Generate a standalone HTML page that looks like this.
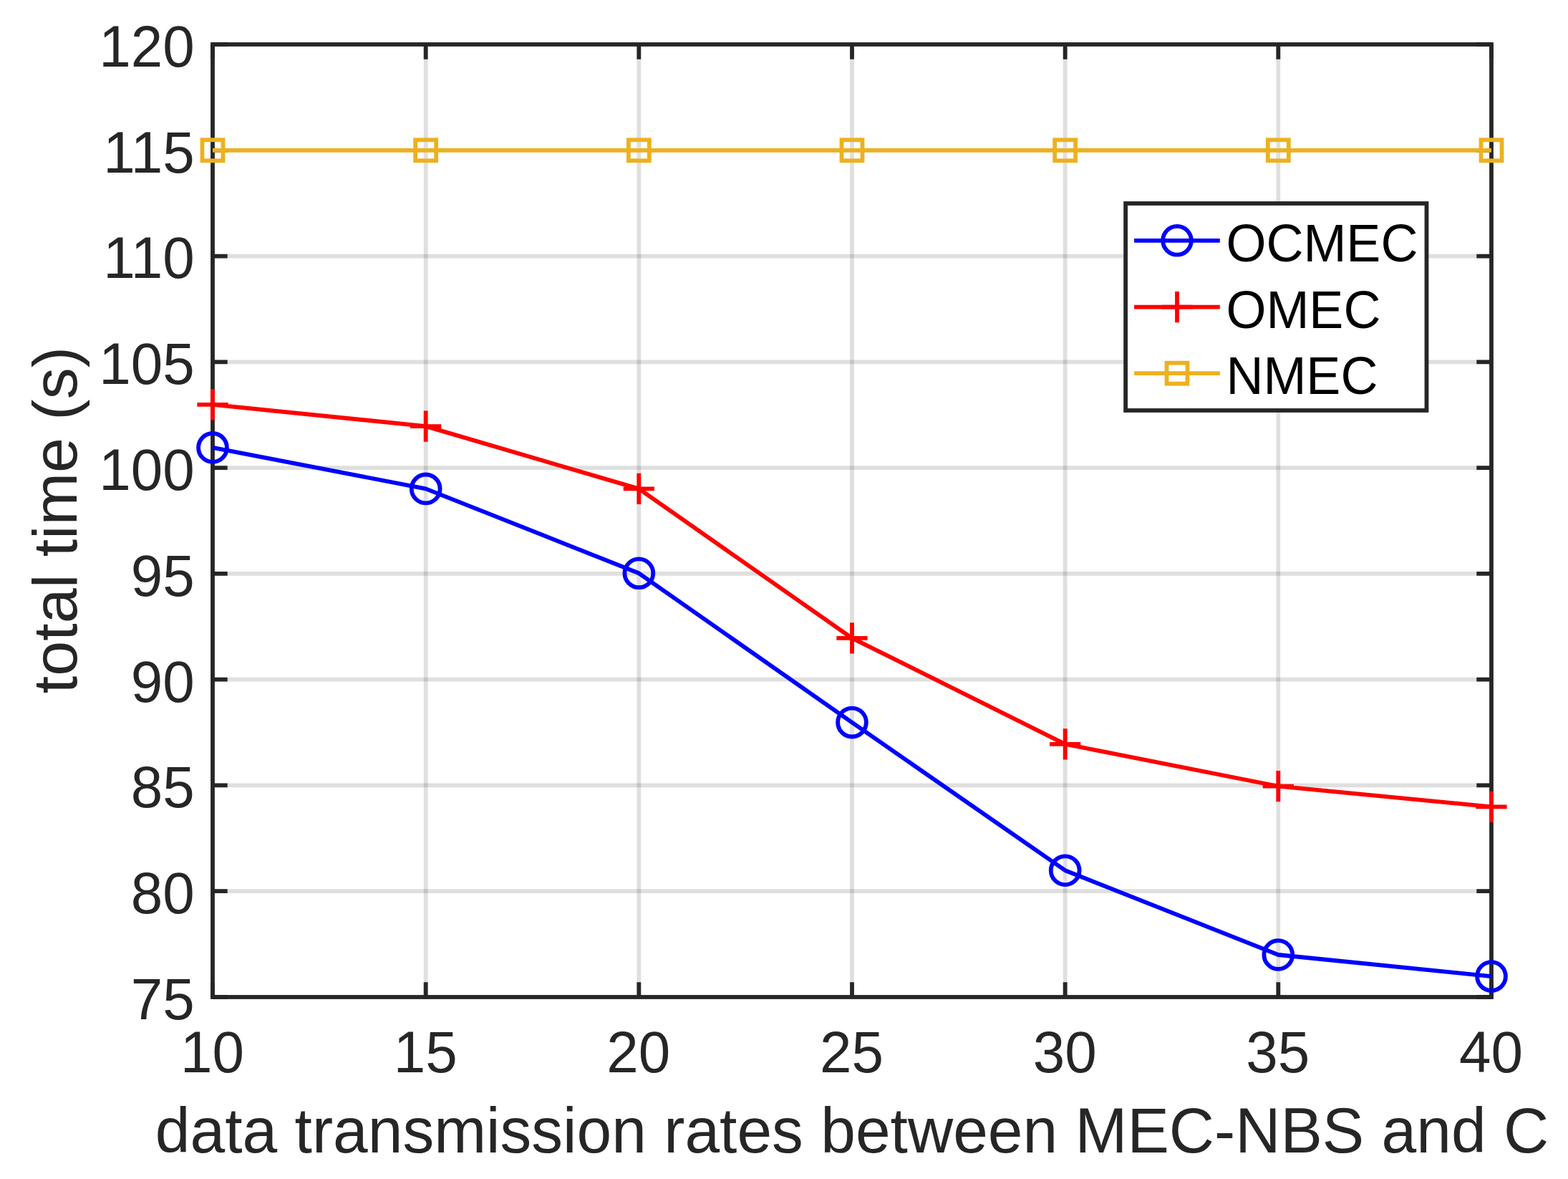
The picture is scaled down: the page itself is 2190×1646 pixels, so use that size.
<!DOCTYPE html><html><head><meta charset="utf-8"><title>total time plot</title>
<style>html,body{margin:0;padding:0;background:#fff;}svg{display:block;}text{font-family:'Liberation Sans', Arial, Helvetica, sans-serif;}</style></head><body>
<svg width="2190" height="1646" viewBox="0 0 2190 1646">
<rect x="0" y="0" width="2190" height="1646" fill="#fff"/>
<g fill="none" stroke="#262626" stroke-opacity="0.15" stroke-width="5.80">
<path d="M594.67 62.00V1392.00"/>
<path d="M892.33 62.00V1392.00"/>
<path d="M1190.00 62.00V1392.00"/>
<path d="M1487.67 62.00V1392.00"/>
<path d="M1785.33 62.00V1392.00"/>
<path d="M297.00 1244.22H2083.00"/>
<path d="M297.00 1096.44H2083.00"/>
<path d="M297.00 948.67H2083.00"/>
<path d="M297.00 800.89H2083.00"/>
<path d="M297.00 653.11H2083.00"/>
<path d="M297.00 505.33H2083.00"/>
<path d="M297.00 357.56H2083.00"/>
<path d="M297.00 209.78H2083.00"/>
</g>
<g fill="none" stroke="#262626" stroke-width="5.80">
<path d="M297.00 1392.00V1371.30M297.00 62.00V82.70M594.67 1392.00V1371.30M594.67 62.00V82.70M892.33 1392.00V1371.30M892.33 62.00V82.70M1190.00 1392.00V1371.30M1190.00 62.00V82.70M1487.67 1392.00V1371.30M1487.67 62.00V82.70M1785.33 1392.00V1371.30M1785.33 62.00V82.70M2083.00 1392.00V1371.30M2083.00 62.00V82.70M297.00 1392.00H317.70M2083.00 1392.00H2062.30M297.00 1244.22H317.70M2083.00 1244.22H2062.30M297.00 1096.44H317.70M2083.00 1096.44H2062.30M297.00 948.67H317.70M2083.00 948.67H2062.30M297.00 800.89H317.70M2083.00 800.89H2062.30M297.00 653.11H317.70M2083.00 653.11H2062.30M297.00 505.33H317.70M2083.00 505.33H2062.30M297.00 357.56H317.70M2083.00 357.56H2062.30M297.00 209.78H317.70M2083.00 209.78H2062.30M297.00 62.00H317.70M2083.00 62.00H2062.30"/>
<rect x="297.00" y="62.00" width="1786.00" height="1330.00" stroke-linejoin="miter"/>
</g>
<g fill="#262626" font-size="80">
<text transform="translate(296.50 1496.90) scale(1 1.020)" text-anchor="middle">10</text>
<text transform="translate(594.17 1496.90) scale(1 1.020)" text-anchor="middle">15</text>
<text transform="translate(891.83 1496.90) scale(1 1.020)" text-anchor="middle">20</text>
<text transform="translate(1189.50 1496.90) scale(1 1.020)" text-anchor="middle">25</text>
<text transform="translate(1487.17 1496.90) scale(1 1.020)" text-anchor="middle">30</text>
<text transform="translate(1784.83 1496.90) scale(1 1.020)" text-anchor="middle">35</text>
<text transform="translate(2082.50 1496.90) scale(1 1.020)" text-anchor="middle">40</text>
<text transform="translate(271.80 1422.90) scale(1 1.020)" text-anchor="end">75</text>
<text transform="translate(271.80 1275.12) scale(1 1.020)" text-anchor="end">80</text>
<text transform="translate(271.80 1127.34) scale(1 1.020)" text-anchor="end">85</text>
<text transform="translate(271.80 979.57) scale(1 1.020)" text-anchor="end">90</text>
<text transform="translate(271.80 831.79) scale(1 1.020)" text-anchor="end">95</text>
<text transform="translate(271.80 684.01) scale(1 1.020)" text-anchor="end">100</text>
<text transform="translate(271.80 536.23) scale(1 1.020)" text-anchor="end">105</text>
<text transform="translate(271.80 388.46) scale(1 1.020)" text-anchor="end">110</text>
<text transform="translate(271.80 240.68) scale(1 1.020)" text-anchor="end">115</text>
<text transform="translate(271.80 92.90) scale(1 1.020)" text-anchor="end">120</text>
</g>
<text transform="translate(1190 1608.9) scale(0.995 1)" text-anchor="middle" font-size="88" fill="#262626">data transmission rates between MEC-NBS and C</text>
<text transform="translate(106.6 726.1) rotate(-90)" x="0" y="0" text-anchor="middle" font-size="88" fill="#262626">total time (s)</text>
<polyline points="297.00,624.90 594.67,682.40 892.33,800.30 1190.00,1008.60 1487.67,1215.20 1785.33,1333.00 2083.00,1363.10" fill="none" stroke="#0000ff" stroke-width="5.80" stroke-linejoin="round"/>
<circle cx="297.00" cy="624.90" r="19.90" fill="none" stroke="#0000ff" stroke-width="5.80"/>
<circle cx="594.67" cy="682.40" r="19.90" fill="none" stroke="#0000ff" stroke-width="5.80"/>
<circle cx="892.33" cy="800.30" r="19.90" fill="none" stroke="#0000ff" stroke-width="5.80"/>
<circle cx="1190.00" cy="1008.60" r="19.90" fill="none" stroke="#0000ff" stroke-width="5.80"/>
<circle cx="1487.67" cy="1215.20" r="19.90" fill="none" stroke="#0000ff" stroke-width="5.80"/>
<circle cx="1785.33" cy="1333.00" r="19.90" fill="none" stroke="#0000ff" stroke-width="5.80"/>
<circle cx="2083.00" cy="1363.10" r="19.90" fill="none" stroke="#0000ff" stroke-width="5.80"/>
<polyline points="297.00,564.80 594.67,595.10 892.33,682.40 1190.00,890.80 1487.67,1038.80 1785.33,1097.70 2083.00,1126.30" fill="none" stroke="#ff0000" stroke-width="5.80" stroke-linejoin="round"/>
<path d="M275.40 564.80H318.60M297.00 543.20V586.40" fill="none" stroke="#ff0000" stroke-width="5.80"/>
<path d="M573.07 595.10H616.27M594.67 573.50V616.70" fill="none" stroke="#ff0000" stroke-width="5.80"/>
<path d="M870.73 682.40H913.93M892.33 660.80V704.00" fill="none" stroke="#ff0000" stroke-width="5.80"/>
<path d="M1168.40 890.80H1211.60M1190.00 869.20V912.40" fill="none" stroke="#ff0000" stroke-width="5.80"/>
<path d="M1466.07 1038.80H1509.27M1487.67 1017.20V1060.40" fill="none" stroke="#ff0000" stroke-width="5.80"/>
<path d="M1763.73 1097.70H1806.93M1785.33 1076.10V1119.30" fill="none" stroke="#ff0000" stroke-width="5.80"/>
<path d="M2061.40 1126.30H2104.60M2083.00 1104.70V1147.90" fill="none" stroke="#ff0000" stroke-width="5.80"/>
<polyline points="297.00,209.80 594.67,209.80 892.33,209.80 1190.00,209.80 1487.67,209.80 1785.33,209.80 2083.00,209.80" fill="none" stroke="#edb120" stroke-width="5.80" stroke-linejoin="round"/>
<rect x="282.50" y="195.30" width="29.00" height="29.00" fill="none" stroke="#edb120" stroke-width="5.80"/>
<rect x="580.17" y="195.30" width="29.00" height="29.00" fill="none" stroke="#edb120" stroke-width="5.80"/>
<rect x="877.83" y="195.30" width="29.00" height="29.00" fill="none" stroke="#edb120" stroke-width="5.80"/>
<rect x="1175.50" y="195.30" width="29.00" height="29.00" fill="none" stroke="#edb120" stroke-width="5.80"/>
<rect x="1473.17" y="195.30" width="29.00" height="29.00" fill="none" stroke="#edb120" stroke-width="5.80"/>
<rect x="1770.83" y="195.30" width="29.00" height="29.00" fill="none" stroke="#edb120" stroke-width="5.80"/>
<rect x="2068.50" y="195.30" width="29.00" height="29.00" fill="none" stroke="#edb120" stroke-width="5.80"/>
<rect x="1572.10" y="284.00" width="420.40" height="289.00" fill="#fff" stroke="#262626" stroke-width="5.80"/>
<path d="M1584.1 335.80H1703.8" stroke="#0000ff" stroke-width="5.80"/>
<circle cx="1644.00" cy="335.80" r="19.90" fill="none" stroke="#0000ff" stroke-width="5.80"/>
<text transform="translate(1712.4 364.70) scale(1 1.032)" font-size="72" fill="#000">OCMEC</text>
<path d="M1584.1 428.70H1703.8" stroke="#ff0000" stroke-width="5.80"/>
<path d="M1622.40 428.70H1665.60M1644.00 407.10V450.30" fill="none" stroke="#ff0000" stroke-width="5.80"/>
<text transform="translate(1712.4 457.60) scale(1 1.032)" font-size="72" fill="#000">OMEC</text>
<path d="M1584.1 521.20H1703.8" stroke="#edb120" stroke-width="5.80"/>
<rect x="1629.50" y="506.70" width="29.00" height="29.00" fill="none" stroke="#edb120" stroke-width="5.80"/>
<text transform="translate(1712.4 550.10) scale(1 1.032)" font-size="72" fill="#000">NMEC</text>
</svg></body></html>
